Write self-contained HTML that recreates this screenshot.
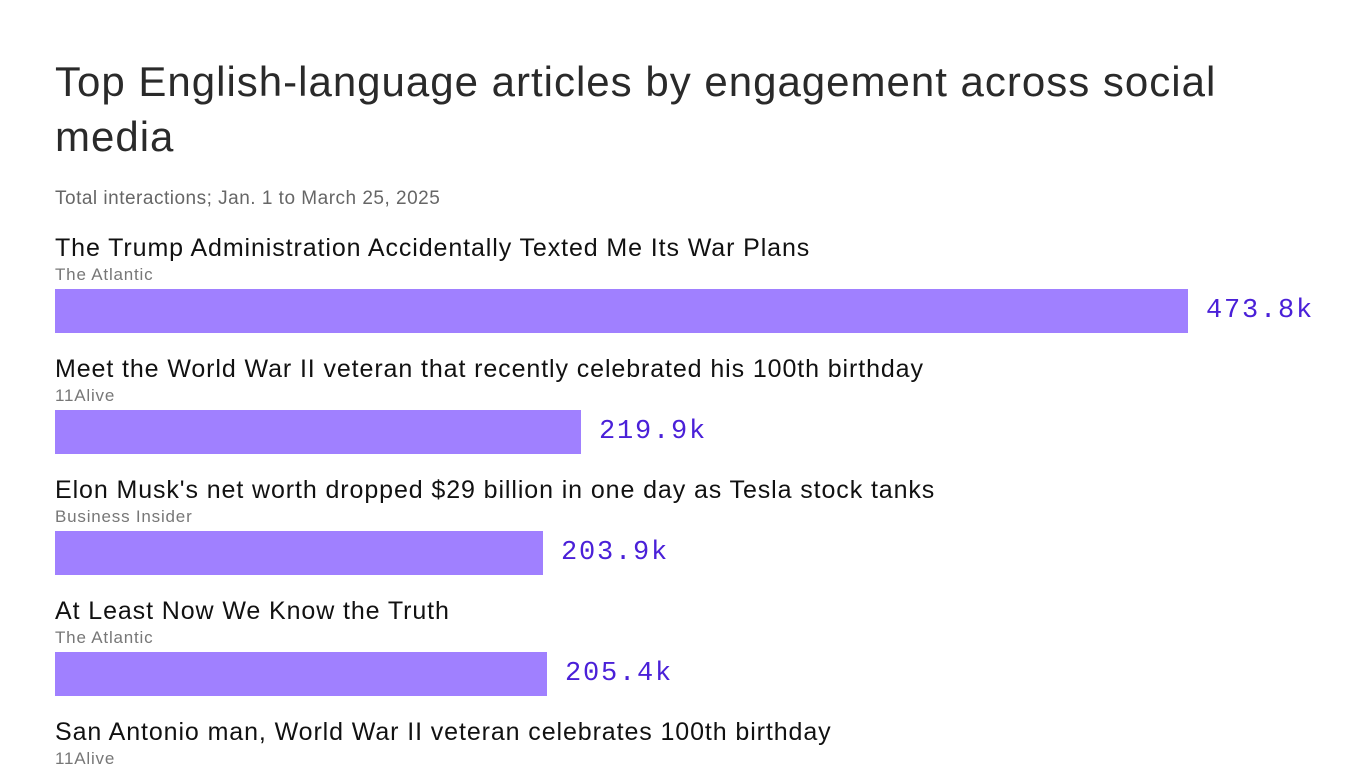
<!DOCTYPE html>
<html><head><meta charset="utf-8"><style>
body{margin:0;width:1366px;height:768px;overflow:hidden;background:#fff;font-family:"Liberation Sans",sans-serif;color:#1a1a1a;position:relative}
.t{position:absolute;left:55px;top:54px;font-size:42px;line-height:55px;width:1250px;color:#2a2a2a;letter-spacing:1px}
.s{position:absolute;left:55px;top:188px;font-size:19px;color:#666;letter-spacing:0.5px}
.r{position:absolute;left:55px}
.h{font-size:25px;line-height:30px;color:#111;white-space:nowrap;letter-spacing:0.9px}
.src{font-size:17px;line-height:20px;color:#777;margin-top:2px;letter-spacing:0.8px}
.b{position:absolute;left:0;top:56px;height:44px;background:#a080ff}
.v{position:absolute;top:60px;font-family:"Liberation Mono",monospace;font-size:27px;line-height:36px;color:#4a20d8;letter-spacing:1.8px}
</style></head><body>
<div class="t">Top English-language articles by engagement across social<br>media</div>
<div class="s">Total interactions; Jan. 1 to March 25, 2025</div>
<div class="r" style="top:233px"><div class="h">The Trump Administration Accidentally Texted Me Its War Plans</div><div class="src">The Atlantic</div><div class="b" style="width:1133px"></div><div class="v" style="left:1151px">473.8k</div></div>
<div class="r" style="top:354px"><div class="h">Meet the World War II veteran that recently celebrated his 100th birthday</div><div class="src">11Alive</div><div class="b" style="width:526px"></div><div class="v" style="left:544px">219.9k</div></div>
<div class="r" style="top:475px"><div class="h">Elon Musk's net worth dropped $29 billion in one day as Tesla stock tanks</div><div class="src">Business Insider</div><div class="b" style="width:488px"></div><div class="v" style="left:506px">203.9k</div></div>
<div class="r" style="top:596px"><div class="h">At Least Now We Know the Truth</div><div class="src">The Atlantic</div><div class="b" style="width:492px"></div><div class="v" style="left:510px">205.4k</div></div>
<div class="r" style="top:717px"><div class="h">San Antonio man, World War II veteran celebrates 100th birthday</div><div class="src">11Alive</div></div>
</body></html>
